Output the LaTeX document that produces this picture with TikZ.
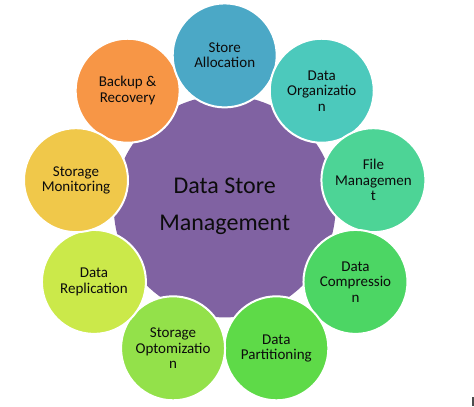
\documentclass[tikz,border=0pt]{standalone}
\usepackage{fontspec}
\setmainfont{Carlito}
\definecolor{purp}{RGB}{128,98,162}
\definecolor{txt}{RGB}{12,12,12}
\definecolor{cA}{RGB}{75,168,198}
\definecolor{cB}{RGB}{76,201,188}
\definecolor{cC}{RGB}{77,212,150}
\definecolor{cD}{RGB}{76,214,100}
\definecolor{cE}{RGB}{94,218,72}
\definecolor{cF}{RGB}{147,225,74}
\definecolor{cG}{RGB}{203,233,74}
\definecolor{cH}{RGB}{240,200,74}
\definecolor{cI}{RGB}{247,150,70}
\tikzset{
  petal/.style={circle, draw=white, line width=2pt, minimum size=104pt,
    inner sep=0pt, align=center, text=txt,
    font=\fontsize{15}{15.5}\selectfont},
  corebox/.style={circle, fill=purp, minimum size=222pt, inner sep=0pt,
    align=center, text=txt, font=\fontsize{24}{37}\selectfont}
}
\begin{document}
\begin{tikzpicture}[x=1pt,y=-1pt]
\useasboundingbox (0,0) rectangle (474,407);
\def\cx{224.7}\def\cy{206.4}\def\rr{151}
\node[corebox] (core) at (\cx,\cy) {Data Store\\Management};
\node[petal, fill=cI] (br)   at ({\cx+\rr*cos(130)},{\cy-\rr*sin(130)}) {Backup \&\\Recovery};
\node[petal, fill=cA] (sa)   at ({\cx+\rr*cos(90)},{\cy-\rr*sin(90)}) {Store\\Allocation};
\node[petal, fill=cB] (dorg) at ({\cx+\rr*cos(50)},{\cy-\rr*sin(50)}) {Data\\Organizatio\\n};
\node[petal, fill=cC] (fm)   at ({\cx+\rr*cos(10)},{\cy-\rr*sin(10)}) {File\\Managemen\\t};
\node[petal, fill=cD] (dc)   at ({\cx+\rr*cos(-30)},{\cy-\rr*sin(-30)}) {Data\\Compressio\\n};
\node[petal, fill=cE] (dp)   at ({\cx+\rr*cos(-70)},{\cy-\rr*sin(-70)}) {Data\\Partitioning};
\node[petal, fill=cF] (so)   at ({\cx+\rr*cos(-110)},{\cy-\rr*sin(-110)}) {Storage\\Optomizatio\\n};
\node[petal, fill=cG] (dr)   at ({\cx+\rr*cos(-150)},{\cy-\rr*sin(-150)}) {Data\\Replication};
\node[petal, fill=cH] (sm)   at ({\cx+\rr*cos(170)},{\cy-\rr*sin(170)}) {Storage\\Monitoring};
\fill[gray!60!black] (471.5,397) rectangle (474,406);
\end{tikzpicture}
\end{document}
